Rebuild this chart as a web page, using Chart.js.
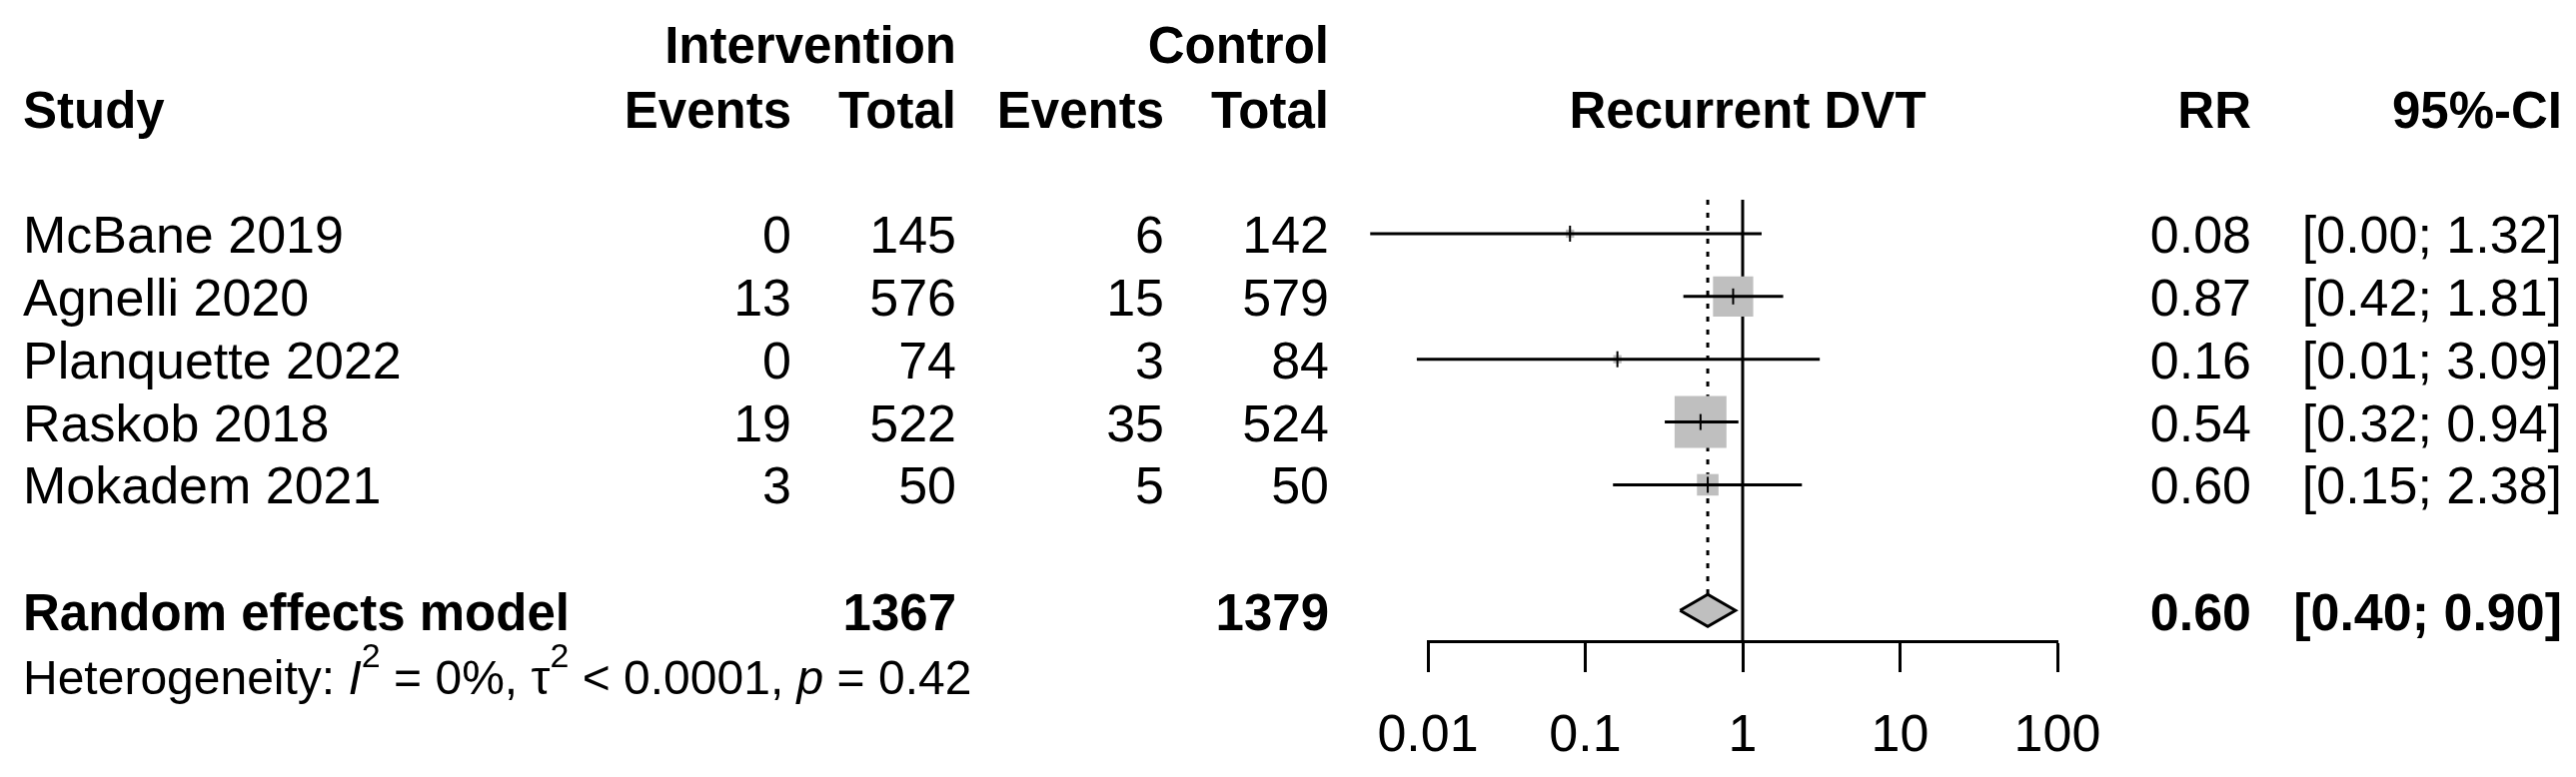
<!DOCTYPE html>
<html>
<head>
<meta charset="utf-8">
<script src="https://cdn.jsdelivr.net/npm/chart.js@4"></script>
<style>
  html, body { margin: 0; padding: 0; background: #fff; }
  #forest { display: block; }
</style>
</head>
<body>
<canvas id="forest" width="2578" height="778"></canvas>
<script>
// ===== Data =====
const studies = ["McBane 2019", "Agnelli 2020", "Planquette 2022", "Raskob 2018", "Mokadem 2021"];
const eventsInt = [0, 13, 0, 19, 3];
const totalInt = [145, 576, 74, 522, 50];
const eventsCtl = [6, 15, 3, 35, 5];
const totalCtl = [142, 579, 84, 524, 50];
const rr = [0.08, 0.87, 0.16, 0.54, 0.60];
const ciLow = [0.0043, 0.42, 0.0085, 0.32, 0.15];
const ciHigh = [1.32, 1.81, 3.09, 0.94, 2.38];
const weights = [1.4, 33, 1.4, 55, 9.5];   // random-effects weight, %

const pooledRR = 0.60;
const pooledLow = 0.40;
const pooledHigh = 0.90;
const pooledTotals = [1367, 1379];
const xTicks = [0.01, 0.1, 1, 10, 100];

// ===== Layout =====
const FONT = '"Liberation Sans", Arial, sans-serif';
const col = { study: 23, evI: 792, totI: 957, evC: 1165, totC: 1330, rr: 2253, ci: 2564 };
const pooledRow = studies.length + 1;
const grey = "#bfbfbf";

const fmt = v => v.toFixed(2);
const ciText = (lo, hi) => "[" + fmt(lo) + "; " + fmt(hi) + "]";

// ===== Datasets =====
const ciLines = studies.map((s, i) => ({
  type: "line",
  data: [{ x: ciLow[i], y: i }, { x: ciHigh[i], y: i }],
  borderColor: "#000",
  borderWidth: 3,
  pointRadius: 0,
  showLine: true,
  clip: false,
  order: 2
}));

const squares = {
  data: rr.map((v, i) => ({ x: v, y: i })),
  pointStyle: "rect",
  pointRadius: ctx => 7.0 * Math.sqrt(weights[ctx.dataIndex]) / 1.414,
  backgroundColor: grey,
  borderWidth: 0,
  clip: false,
  order: 3
};

const centers = {
  data: rr.map((v, i) => ({ x: v, y: i })),
  pointStyle: "line",
  rotation: 90,
  pointRadius: 8,
  borderColor: "#000",
  borderWidth: 2,
  clip: false,
  order: 1
};

const diamond = {
  type: "line",
  data: [
    { x: pooledLow, y: pooledRow },
    { x: pooledRR, y: pooledRow - 0.255 },
    { x: pooledHigh, y: pooledRow },
    { x: pooledRR, y: pooledRow + 0.255 },
    { x: pooledLow, y: pooledRow }
  ],
  showLine: true,
  fill: "shape",
  backgroundColor: grey,
  borderColor: "#000",
  borderWidth: 3,
  tension: 0,
  pointRadius: 0,
  clip: false,
  order: 2
};

const nullLine = {
  type: "line",
  data: [{ x: 1, y: -0.54 }, { x: 1, y: 6.49 }],
  showLine: true,
  borderColor: "#000",
  borderWidth: 3,
  pointRadius: 0,
  clip: false,
  order: 4
};

const pooledLine = {
  type: "line",
  data: [{ x: pooledRR, y: -0.54 }, { x: pooledRR, y: pooledRow - 0.255 }],
  showLine: true,
  borderColor: "#000",
  borderWidth: 3,
  borderDash: [5, 8],
  pointRadius: 0,
  clip: false,
  order: 4
};

// ===== Table text =====
const tablePlugin = {
  id: "table",
  afterDraw(chart) {
    const ctx = chart.ctx;
    const y = chart.scales.y;
    const area = chart.chartArea;
    const reg = size => size + "px " + FONT;
    const bold = size => "bold " + size + "px " + FONT;

    function txt(s, x, yy, align, font) {
      ctx.font = font;
      ctx.textAlign = align;
      ctx.textBaseline = "alphabetic";
      ctx.fillStyle = "#000";
      ctx.fillText(s, x, yy);
    }

    ctx.save();
    // headers
    txt("Intervention", col.totI, 63, "right", bold(51));
    txt("Control", col.totC, 63, "right", bold(51));
    txt("Study", col.study, 128, "left", bold(51));
    txt("Events", col.evI, 128, "right", bold(51));
    txt("Total", col.totI, 128, "right", bold(51));
    txt("Events", col.evC, 128, "right", bold(51));
    txt("Total", col.totC, 128, "right", bold(51));
    txt("Recurrent DVT", (area.left + area.right) / 2 + 5, 128, "center", bold(51));
    txt("RR", col.rr, 128, "right", bold(51));
    txt("95%-CI", col.ci, 128, "right", bold(51));

    // study rows
    studies.forEach((s, i) => {
      const b = y.getPixelForValue(i) + 19;
      txt(s, col.study, b, "left", reg(52));
      txt(String(eventsInt[i]), col.evI, b, "right", reg(52));
      txt(String(totalInt[i]), col.totI, b, "right", reg(52));
      txt(String(eventsCtl[i]), col.evC, b, "right", reg(52));
      txt(String(totalCtl[i]), col.totC, b, "right", reg(52));
      txt(fmt(rr[i]), col.rr, b, "right", reg(52));
      txt(ciText(ciLow[i], ciHigh[i]), col.ci, b, "right", reg(52));
    });

    // pooled row
    const pb = y.getPixelForValue(pooledRow) + 20;
    txt("Random effects model", col.study, pb, "left", bold(51));
    txt(String(pooledTotals[0]), col.totI, pb, "right", bold(51));
    txt(String(pooledTotals[1]), col.totC, pb, "right", bold(51));
    txt(fmt(pooledRR), col.rr, pb, "right", bold(52));
    txt(ciText(pooledLow, pooledHigh), col.ci, pb, "right", bold(52));

    // heterogeneity line
    const hb = pb + 64;
    const parts = [
      ["Heterogeneity: ", reg(48), 0],
      ["I", "italic " + reg(48), 0],
      ["2", reg(34), -27],
      [" = 0%, \u03c4", reg(48), 0],
      ["2", reg(34), -27],
      [" < 0.0001, ", reg(48), 0],
      ["p", "italic " + reg(48), 0],
      [" = 0.42", reg(48), 0]
    ];
    let hx = col.study;
    parts.forEach(([s, f, dy]) => {
      txt(s, hx, hb + dy, "left", f);
      hx += ctx.measureText(s).width;
    });
    ctx.restore();
  }
};

// ===== Chart =====
new Chart(document.getElementById("forest"), {
  type: "scatter",
  data: {
    datasets: [nullLine, pooledLine, ...ciLines, squares, centers, diamond]
  },
  options: {
    responsive: false,
    animation: false,
    events: [],
    layout: { padding: { left: 1429, right: 519, top: 200, bottom: 10 } },
    plugins: { legend: { display: false }, tooltip: { enabled: false } },
    scales: {
      x: {
        type: "logarithmic",
        position: "bottom",
        min: 0.01,
        max: 100,
        afterBuildTicks: scale => { scale.ticks = xTicks.map(v => ({ value: v })); },
        afterFit: scale => { scale.height = 126; },
        border: { display: true, color: "#000", width: 3 },
        grid: { drawOnChartArea: false, drawTicks: true, tickLength: 31, tickColor: "#000", tickWidth: 3 },
        ticks: {
          color: "#000",
          padding: 33,
          maxRotation: 0,
          autoSkip: false,
          font: { family: FONT, size: 52 },
          callback: v => String(v)
        }
      },
      y: {
        display: false,
        reverse: true,
        min: -0.54,
        max: 6.49
      }
    }
  },
  plugins: [tablePlugin]
});
</script>
</body>
</html>
